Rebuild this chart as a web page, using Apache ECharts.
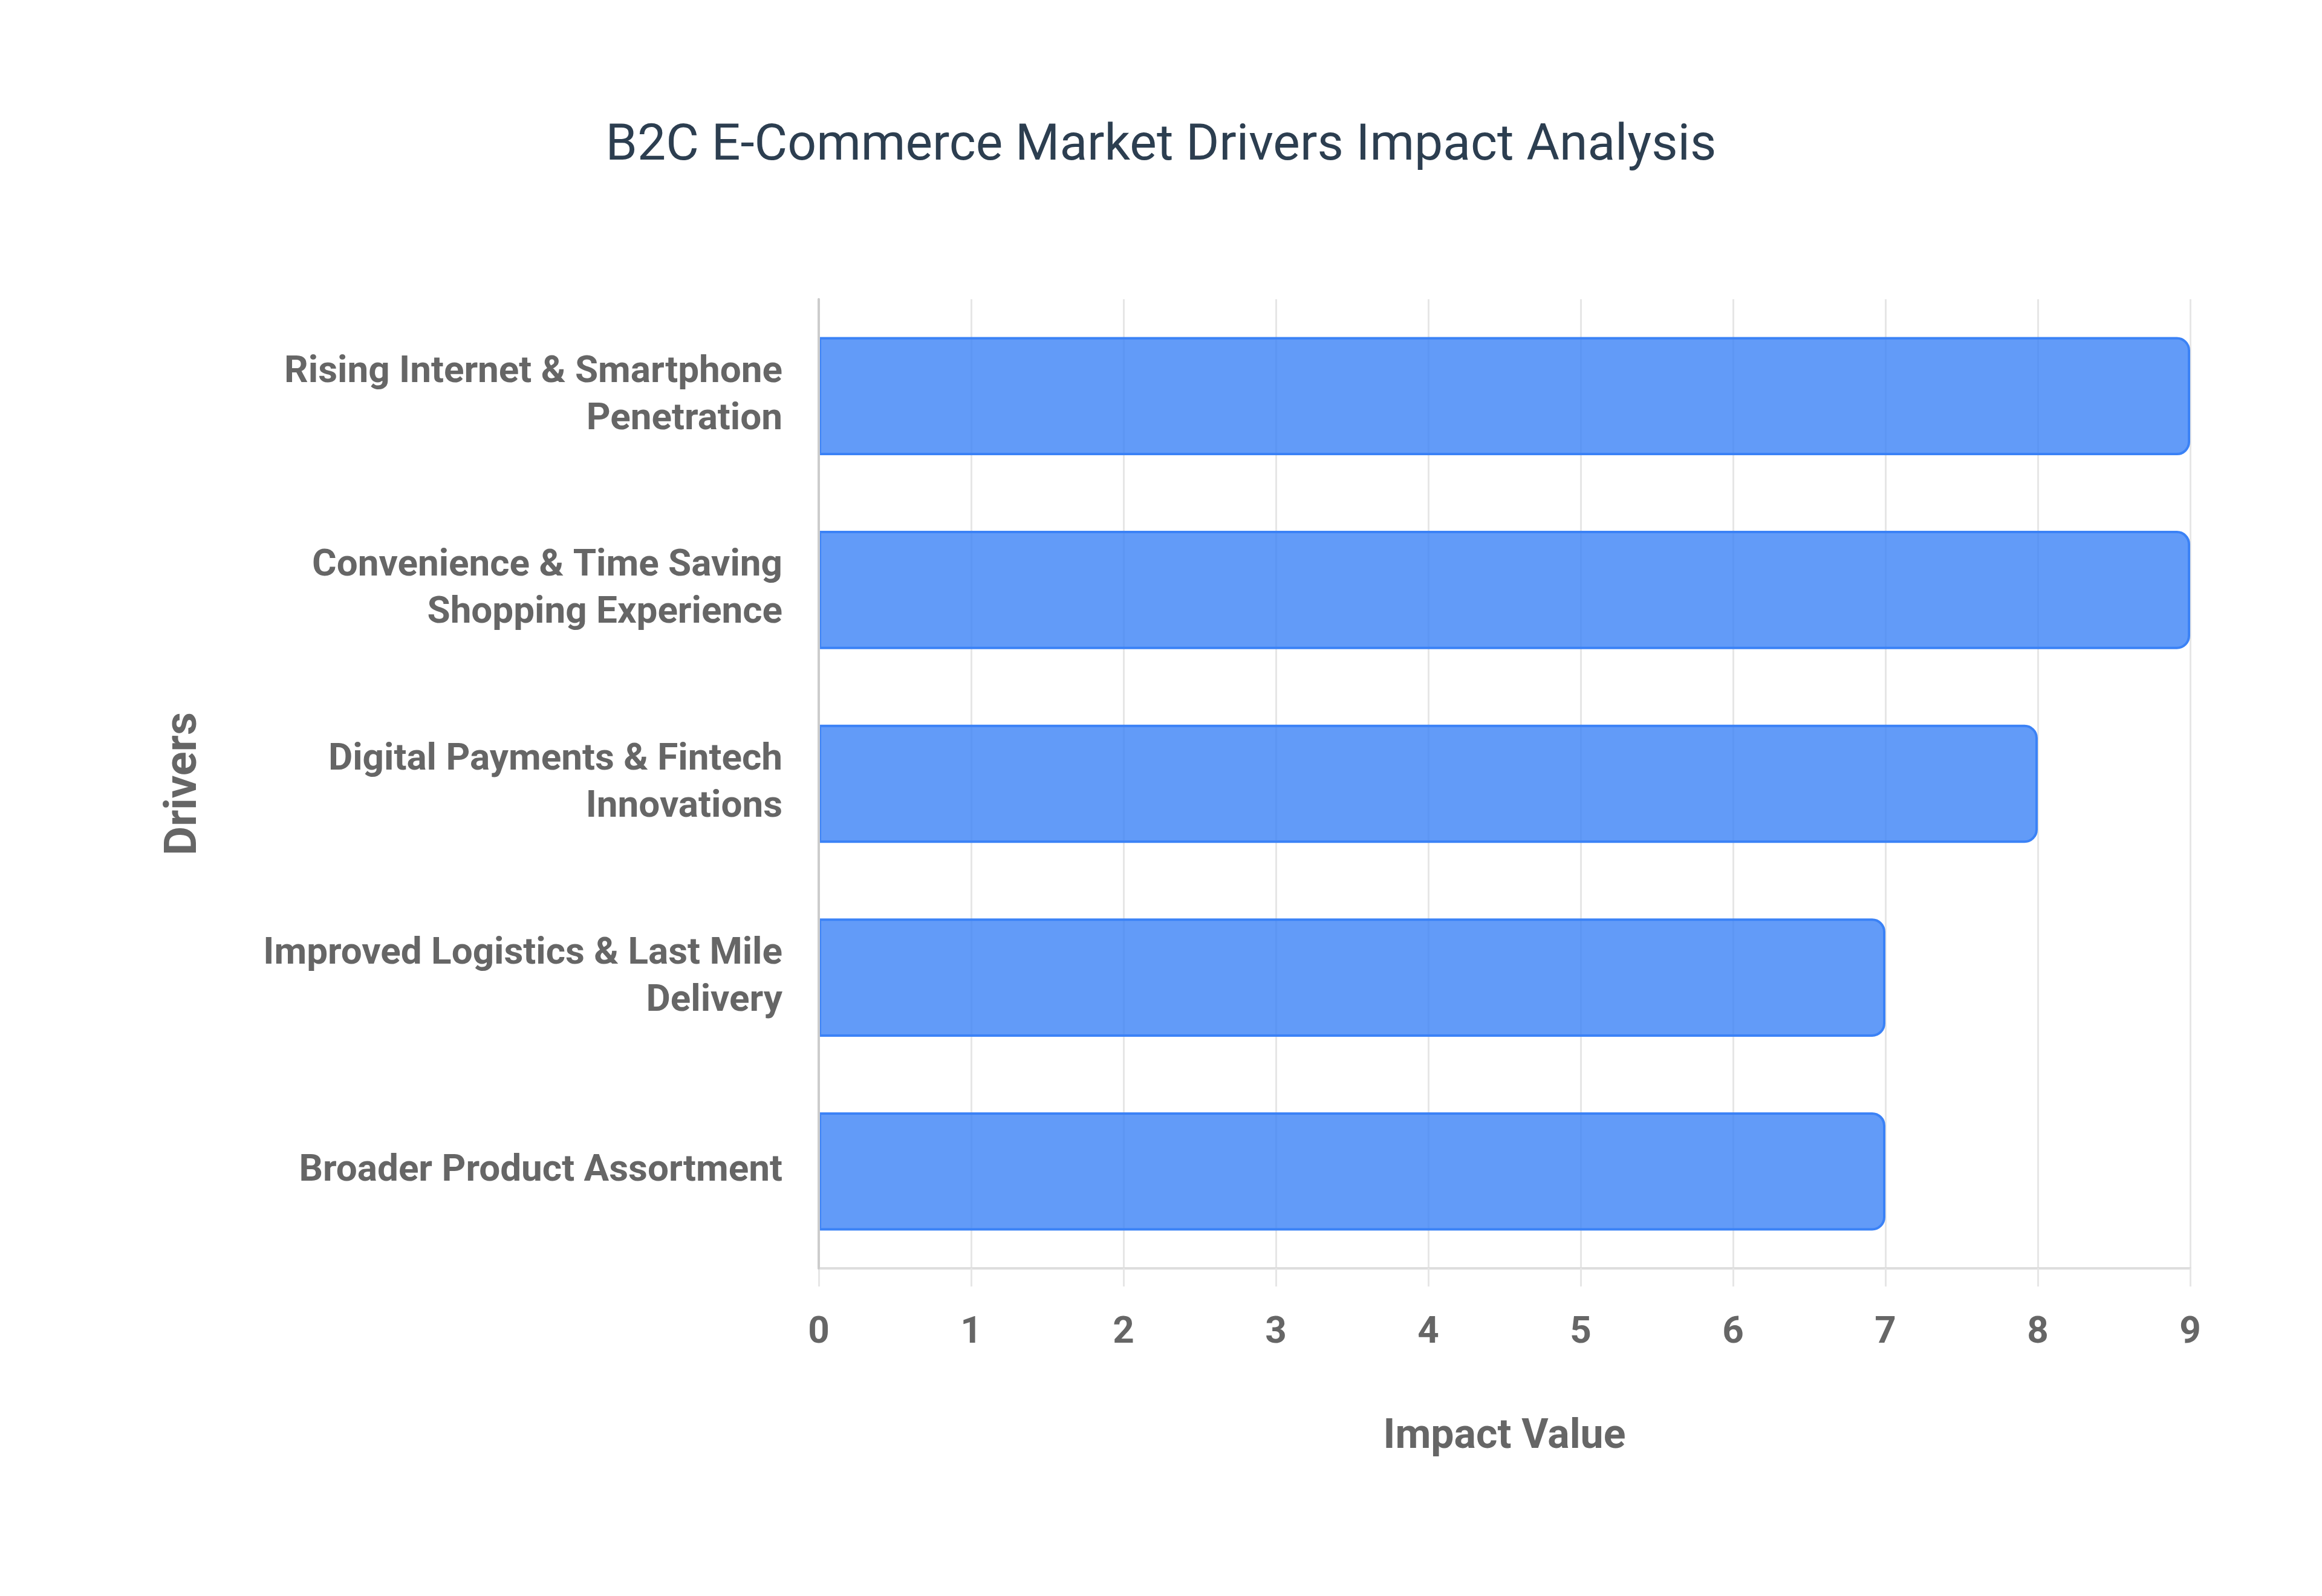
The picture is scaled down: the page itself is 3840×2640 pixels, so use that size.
<!DOCTYPE html>
<html>
<head>
<meta charset="utf-8">
<script src="https://cdn.jsdelivr.net/npm/echarts@6/dist/echarts.min.js"></script>
<style>
  html, body { margin: 0; padding: 0; background: #fff; }
  #chart { width: 3840px; height: 2640px; }
</style>
</head>
<body>
<div id="chart"></div>
<script>
// ── B2C E-Commerce drivers (horizontal bars) ──

const chartTitle = 'B2C E-Commerce Market Drivers Impact Analysis';
const driverLabels = [
  ['Rising Internet & Smartphone', 'Penetration'],
  ['Convenience & Time Saving', 'Shopping Experience'],
  ['Digital Payments & Fintech', 'Innovations'],
  ['Improved Logistics & Last Mile', 'Delivery'],
  ['Broader Product Assortment'],
];
const impactValues = [9, 9, 8, 7, 7];
const xAxisName = 'Impact Value';
const yAxisName = 'Drivers';

const FONT = 'Roboto, "Liberation Sans", Arial, sans-serif';
const gridColor = '#e6e6e6';
const labelColor = '#666666';

const chart = echarts.init(document.getElementById('chart'));
chart.setOption({
  backgroundColor: '#ffffff',
  animation: false,
  title: {
    text: chartTitle,
    left: 'center',
    top: 196,
    textStyle: { color: '#2c3e50', fontSize: 84, fontWeight: 'normal', fontFamily: FONT },
  },
  grid: { left: 1354, right: 218, top: 495, bottom: 542, containLabel: false },
  xAxis: {
    type: 'value',
    min: 0, max: 9, interval: 1,
    name: xAxisName,
    nameLocation: 'middle',
    nameGap: 246,
    nameTextStyle: { color: labelColor, fontSize: 68, fontWeight: 'bold', fontFamily: FONT },
    axisLine: { show: true, lineStyle: { color: '#dddddd', width: 4 } },
    axisTick: { show: true, length: 30, lineStyle: { color: gridColor, width: 3 } },
    axisLabel: { color: labelColor, fontSize: 62, fontWeight: 'bold', fontFamily: FONT, margin: 76 },
    splitLine: { show: true, lineStyle: { color: gridColor, width: 3 } },
  },
  yAxis: {
    type: 'category',
    inverse: true,
    z: 5,
    data: driverLabels.map(l => l.join('\n')),
    name: yAxisName,
    nameLocation: 'middle',
    nameRotate: 90,
    nameGap: 1012,
    nameTextStyle: { color: labelColor, fontSize: 74, fontWeight: 'bold', fontFamily: FONT },
    axisLine: { show: true, lineStyle: { color: '#cccccc', width: 4 } },
    axisTick: { show: false },
    splitLine: { show: false },
    axisLabel: {
      color: labelColor, fontSize: 62, fontWeight: 'bold', fontFamily: FONT,
      lineHeight: 78, margin: 60, align: 'right',
    },
  },
  series: [{
    type: 'bar',
    data: impactValues,
    barCategoryGap: '39%',
    itemStyle: {
      color: 'rgba(59,130,246,0.8)',
      borderColor: '#3b82f6',
      borderWidth: 4,
      borderRadius: [0, 20, 20, 0],
    },
  }],
});
</script>
</body>
</html>
